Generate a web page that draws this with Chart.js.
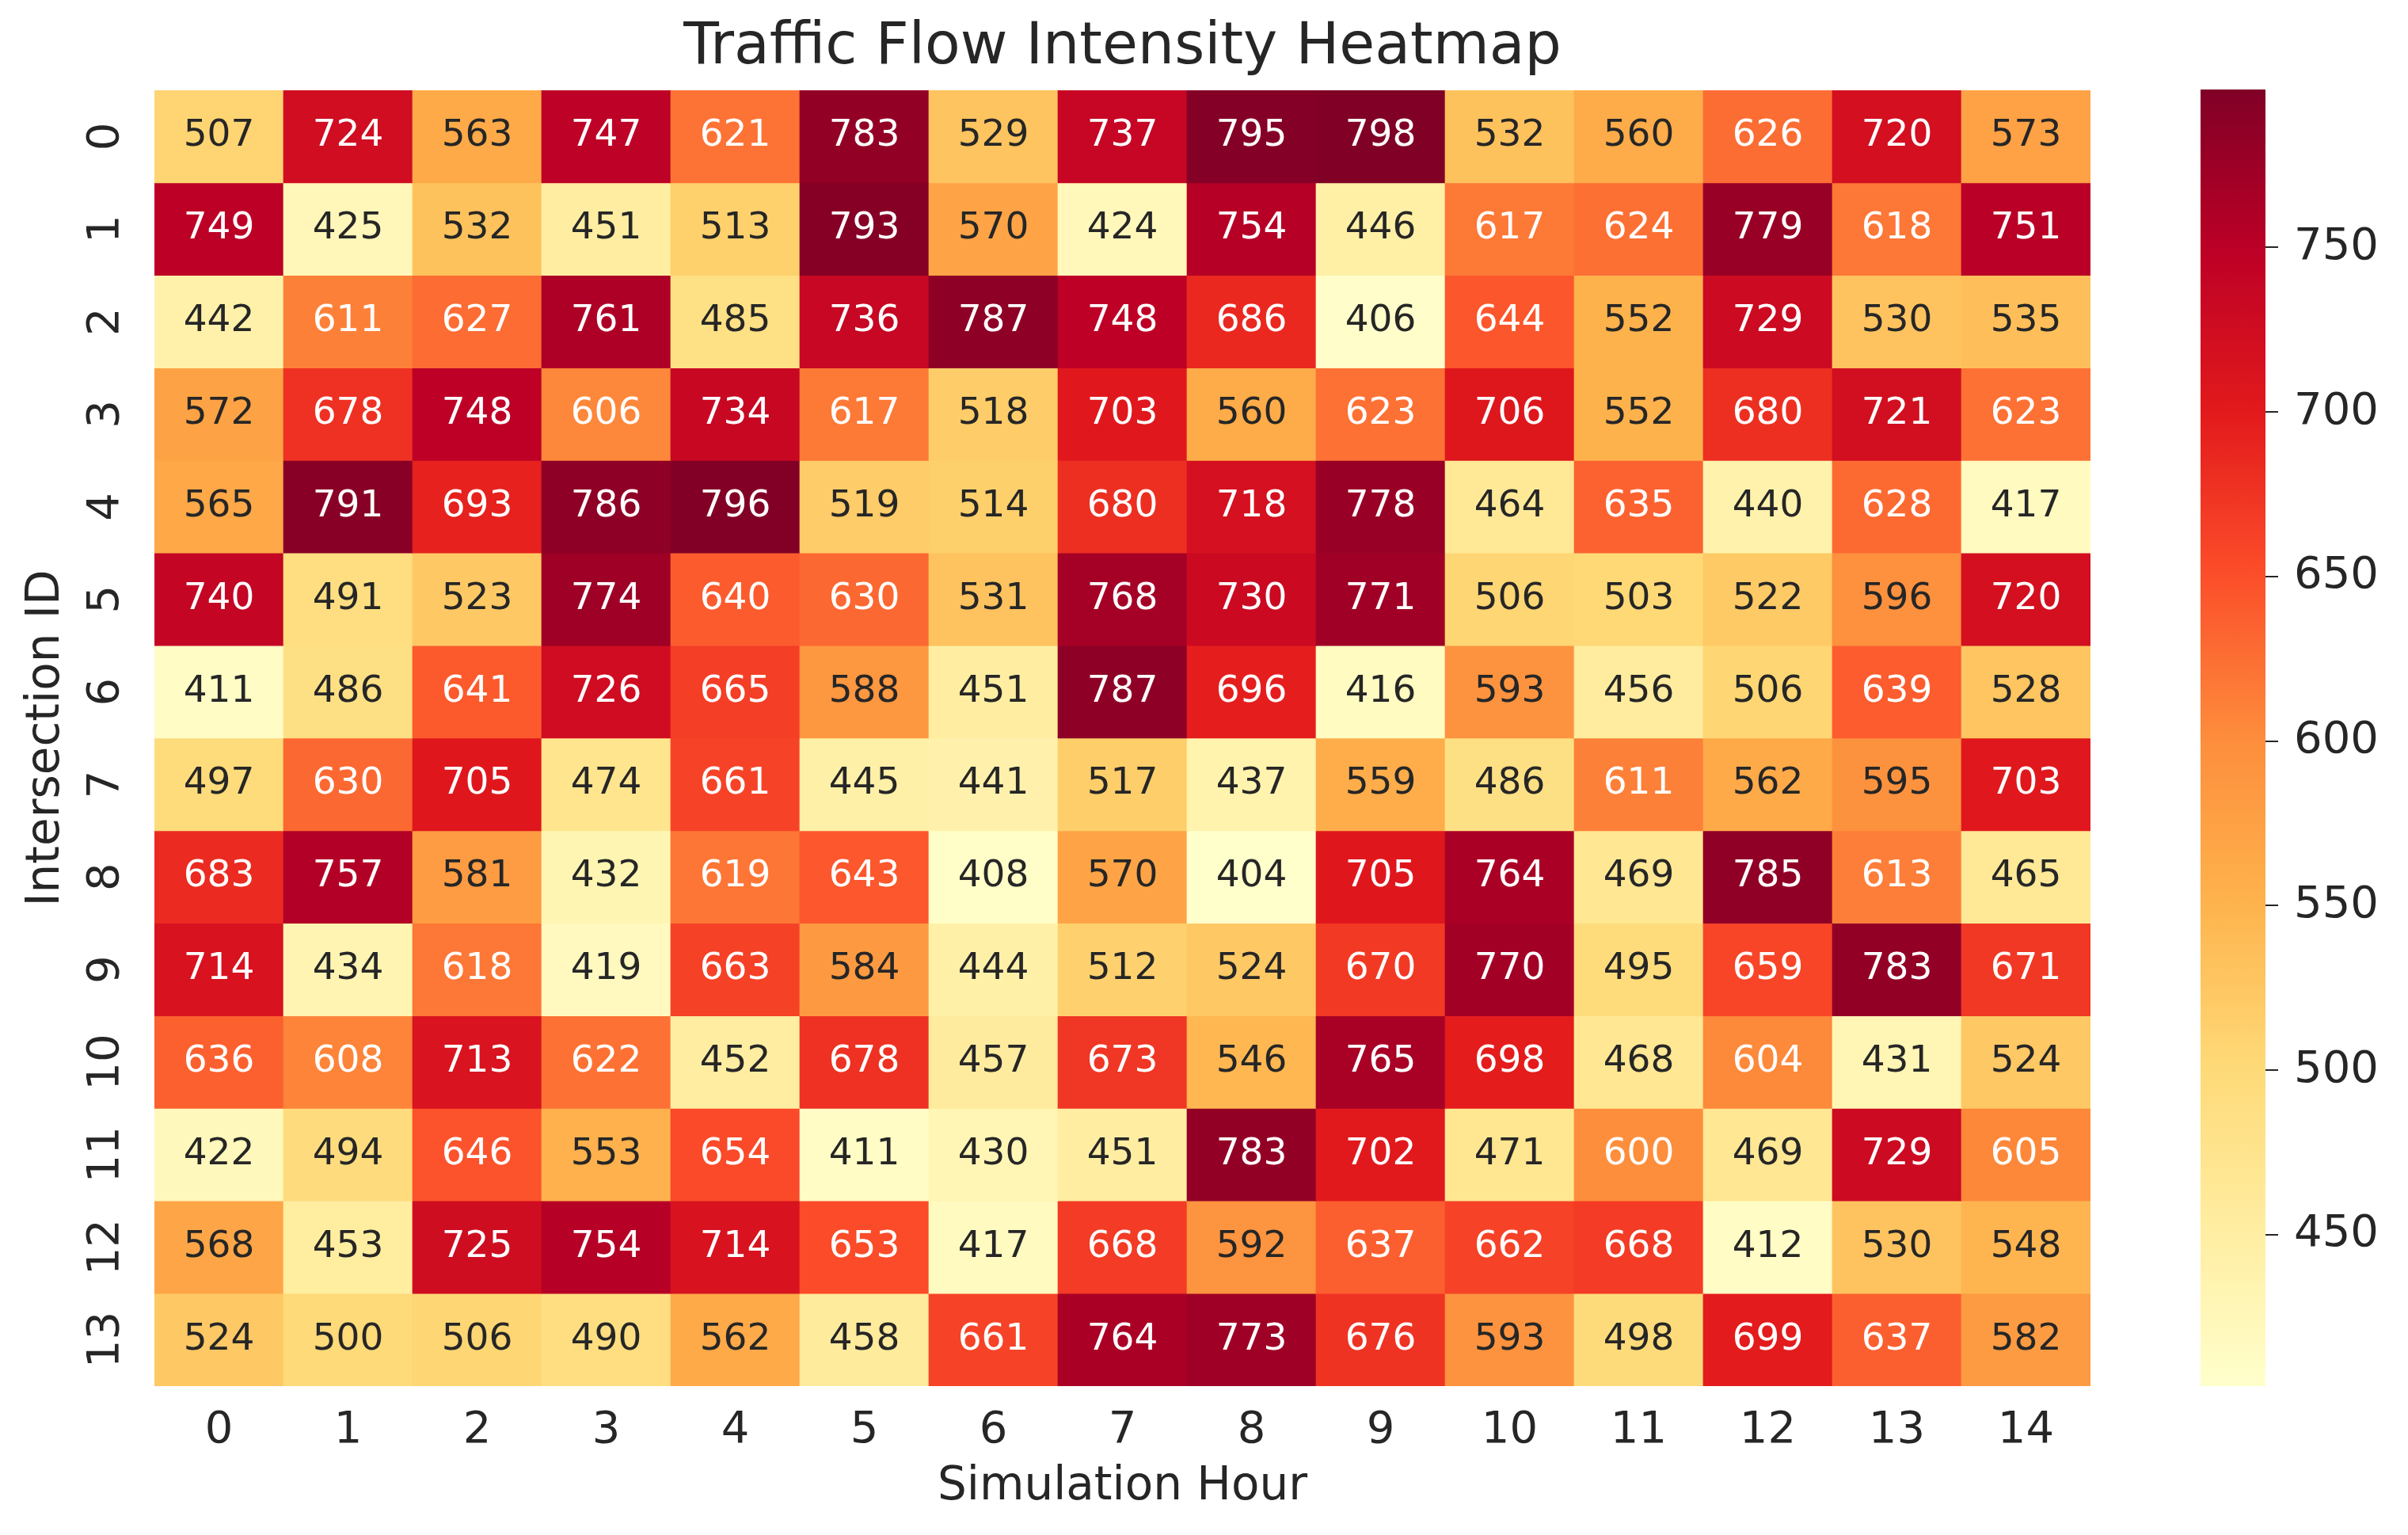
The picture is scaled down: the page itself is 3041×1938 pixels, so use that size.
<!DOCTYPE html>
<html>
<head>
<meta charset="utf-8">
<script src="https://cdn.jsdelivr.net/npm/chart.js@4.4.1/dist/chart.umd.min.js"></script>
<style>
  html, body { margin: 0; padding: 0; background: #ffffff; }
  #wrap { position: relative; width: 3041px; height: 1938px; }
  #main { position: absolute; left: 0; top: 0; }
  #cbar { position: absolute; left: 2700px; top: 0; }
</style>
</head>
<body>
<div id="wrap">
  <canvas id="main" width="3041" height="1938"></canvas>
  <canvas id="cbar" width="341" height="1938"></canvas>
</div>
<script>
// ---------------- data ----------------
const hours = ['0','1','2','3','4','5','6','7','8','9','10','11','12','13','14'];
const intersections = ['0','1','2','3','4','5','6','7','8','9','10','11','12','13'];

const row0  = [507,724,563,747,621,783,529,737,795,798,532,560,626,720,573];
const row1  = [749,425,532,451,513,793,570,424,754,446,617,624,779,618,751];
const row2  = [442,611,627,761,485,736,787,748,686,406,644,552,729,530,535];
const row3  = [572,678,748,606,734,617,518,703,560,623,706,552,680,721,623];
const row4  = [565,791,693,786,796,519,514,680,718,778,464,635,440,628,417];
const row5  = [740,491,523,774,640,630,531,768,730,771,506,503,522,596,720];
const row6  = [411,486,641,726,665,588,451,787,696,416,593,456,506,639,528];
const row7  = [497,630,705,474,661,445,441,517,437,559,486,611,562,595,703];
const row8  = [683,757,581,432,619,643,408,570,404,705,764,469,785,613,465];
const row9  = [714,434,618,419,663,584,444,512,524,670,770,495,659,783,671];
const row10 = [636,608,713,622,452,678,457,673,546,765,698,468,604,431,524];
const row11 = [422,494,646,553,654,411,430,451,783,702,471,600,469,729,605];
const row12 = [568,453,725,754,714,653,417,668,592,637,662,668,412,530,548];
const row13 = [524,500,506,490,562,458,661,764,773,676,593,498,699,637,582];

const colorbarTicks = [450, 500, 550, 600, 650, 700, 750];

const titleText = 'Traffic Flow Intensity Heatmap';
const xTitle = 'Simulation Hour';
const yTitle = 'Intersection ID';

// ---------------- colormap (YlOrRd) ----------------
const flows = [row0,row1,row2,row3,row4,row5,row6,row7,row8,row9,row10,row11,row12,row13];
const vmin = Math.min(...flows.flat());
const vmax = Math.max(...flows.flat());

const ylorrd = [
  [1.0, 1.0, 0.8], [1.0, 0.929, 0.627], [0.996, 0.851, 0.463],
  [0.996, 0.698, 0.298], [0.992, 0.553, 0.235], [0.988, 0.306, 0.165],
  [0.890, 0.102, 0.110], [0.741, 0.0, 0.149], [0.502, 0.0, 0.149]
];
function cmap(t) {
  t = Math.max(0, Math.min(1, t));
  const pos = t * (ylorrd.length - 1);
  const i = Math.min(Math.floor(pos), ylorrd.length - 2);
  const f = pos - i;
  const a = ylorrd[i], b = ylorrd[i + 1];
  return [a[0] + (b[0]-a[0])*f, a[1] + (b[1]-a[1])*f, a[2] + (b[2]-a[2])*f];
}
function rgbStr(c) {
  return 'rgb(' + Math.round(c[0]*255) + ',' + Math.round(c[1]*255) + ',' + Math.round(c[2]*255) + ')';
}
function colorFor(v) { return cmap((v - vmin) / (vmax - vmin)); }
function luminance(c) {
  const lin = c.map(x => x <= 0.03928 ? x / 12.92 : Math.pow((x + 0.055) / 1.055, 2.4));
  return 0.2126*lin[0] + 0.7152*lin[1] + 0.0722*lin[2];
}

const FONT = "'DejaVu Sans', 'Liberation Sans', sans-serif";
const TXT = '#262626';

// ---------------- heatmap ----------------
const datasets = flows.map((vals, r) => ({
  label: intersections[r],
  data: vals.map(() => [r, r + 1]),
  values: vals,
  backgroundColor: vals.map(v => rgbStr(colorFor(v))),
  borderWidth: 0,
  barPercentage: 1,
  categoryPercentage: 1,
  grouped: false
}));

const annotatePlugin = {
  id: 'annotate',
  afterDatasetsDraw(chart) {
    const ctx = chart.ctx;
    ctx.save();
    ctx.font = '47px ' + FONT;
    ctx.textAlign = 'center';
    ctx.textBaseline = 'alphabetic';
    chart.data.datasets.forEach((ds, di) => {
      const meta = chart.getDatasetMeta(di);
      meta.data.forEach((el, i) => {
        const v = ds.values[i];
        const c = colorFor(v);
        ctx.fillStyle = luminance(c) > 0.408 ? TXT : '#ffffff';
        const cy = (el.y + el.base) / 2;
        ctx.fillText(String(v), el.x, cy + 12);
      });
    });
    ctx.restore();
  }
};

new Chart(document.getElementById('main'), {
  type: 'bar',
  data: { labels: hours, datasets: datasets },
  plugins: [annotatePlugin],
  options: {
    responsive: false,
    animation: false,
    devicePixelRatio: 1,
    layout: { padding: { left: 0, right: 401, top: 0, bottom: 0 } },
    plugins: {
      legend: { display: false },
      tooltip: { enabled: false },
      title: {
        display: true,
        fullSize: false,
        text: titleText,
        color: TXT,
        font: { family: FONT, size: 73, weight: 'normal' },
        padding: { top: 17, bottom: 9.4 }
      }
    },
    scales: {
      x: {
        type: 'category',
        position: 'bottom',
        offset: true,
        grid: { display: false, drawTicks: false },
        border: { display: false },
        ticks: {
          color: TXT, font: { family: FONT, size: 56 },
          padding: 23, autoSkip: false, maxRotation: 0, minRotation: 0
        },
        title: {
          display: true, text: xTitle, color: TXT,
          font: { family: FONT, size: 58 },
          padding: { top: 0, bottom: 25 }
        },
        afterFit(scale) { scale.height = 188; }
      },
      y: {
        type: 'linear',
        position: 'left',
        min: 0, max: intersections.length,
        reverse: true,
        grid: { display: false, drawTicks: false },
        border: { display: false },
        afterBuildTicks(scale) {
          scale.ticks = intersections.map((_, i) => ({ value: i + 0.5 }));
        },
        ticks: {
          color: TXT, font: { family: FONT, size: 56 },
          autoSkip: false, minRotation: 90, maxRotation: 90,
          crossAlign: 'center', padding: 25,
          callback: (v, i) => intersections[i]
        },
        title: {
          display: true, text: yTitle, color: TXT,
          font: { family: FONT, size: 58 },
          padding: { top: 24, bottom: 0 }
        },
        afterFit(scale) { scale.width = 195; }
      }
    }
  }
});

// ---------------- colorbar ----------------
new Chart(document.getElementById('cbar'), {
  type: 'bar',
  data: {
    labels: [''],
    datasets: [{
      data: [[vmin, vmax]],
      borderWidth: 0,
      barPercentage: 1,
      categoryPercentage: 1,
      backgroundColor(context) {
        const chart = context.chart;
        const area = chart.chartArea;
        if (!area) return '#ffffff';
        const ys = chart.scales.y;
        const y0 = ys.getPixelForValue(vmin);
        const y1 = ys.getPixelForValue(vmax);
        const g = chart.ctx.createLinearGradient(0, y0, 0, y1);
        const n = 64;
        for (let k = 0; k <= n; k++) {
          g.addColorStop(k / n, rgbStr(cmap(k / n)));
        }
        return g;
      }
    }]
  },
  options: {
    responsive: false,
    animation: false,
    devicePixelRatio: 1,
    layout: { padding: { left: 79, right: 0, top: 113, bottom: 188 } },
    plugins: { legend: { display: false }, tooltip: { enabled: false }, title: { display: false } },
    scales: {
      x: { display: false, offset: true },
      y: {
        type: 'linear',
        position: 'right',
        min: vmin, max: vmax,
        border: { display: false },
        grid: { display: true, drawOnChartArea: false, drawTicks: true, tickLength: 16, color: TXT, lineWidth: 2 },
        afterBuildTicks(scale) {
          scale.ticks = colorbarTicks.map(v => ({ value: v }));
        },
        ticks: {
          color: TXT, font: { family: FONT, size: 56 }, padding: 20,
          autoSkip: false,
          callback: (v) => String(v)
        },
        afterFit(scale) { scale.width = 180; }
      }
    }
  }
});
</script>
</body>
</html>
